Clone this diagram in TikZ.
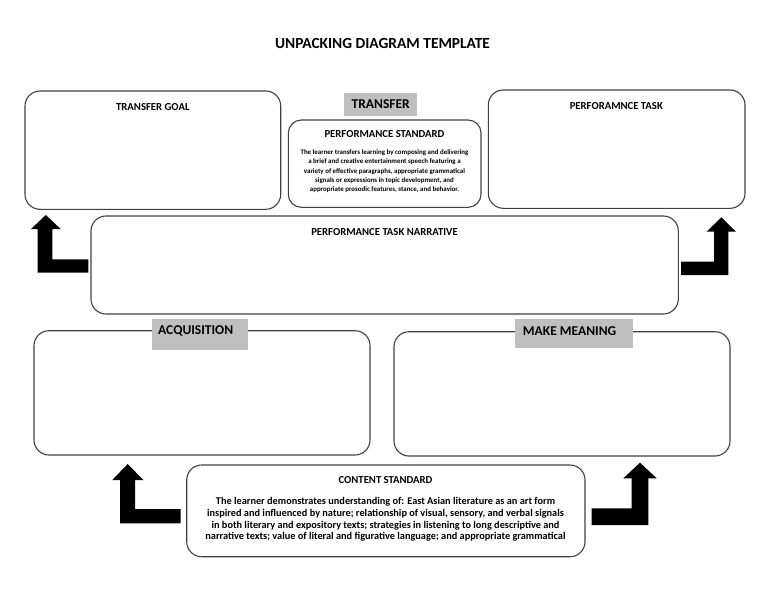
\documentclass[tikz,border=0pt]{standalone}
\usepackage{fontspec}
\setmainfont{Carlito}
\begin{document}
\begin{tikzpicture}[x=1pt,y=-1pt,
  box/.style={draw=black!75, line width=1.1pt, rounded corners=15pt, inner sep=0pt},
  ttl/.style={font=\bfseries\fontsize{10.7}{12}\selectfont, inner sep=0pt},
  tag/.style={fill=black!25, inner sep=0pt},
  tagtext/.style={inner sep=0pt, anchor=west, font=\bfseries\fontsize{13.5}{15}\selectfont},
  blockarrow/.style={fill=black, draw=none}]
\useasboundingbox (0,0) rectangle (768,594);
% title
\node[font=\bfseries\fontsize{15.4}{17}\selectfont, inner sep=0pt] (title) at (382.5,44) {UNPACKING DIAGRAM TEMPLATE};
% boxes
\node[box, minimum width=255.7pt, minimum height=118.3pt] (goal) at (152.85,150.15) {};
\node[box, minimum width=256.7pt, minimum height=118.3pt] (task) at (616.65,149.15) {};
\node[box, minimum width=192.7pt, minimum height=87.3pt, rounded corners=13pt] (pstd) at (384.65,163.65) {};
\node[box, minimum width=587.3pt, minimum height=98pt] (narr) at (384.65,265) {};
\node[box, minimum width=336pt, minimum height=124.3pt] (acq) at (202,392.85) {};
\node[box, minimum width=336pt, minimum height=124.3pt] (mm) at (562,393.85) {};
\node[box, minimum width=398.3pt, minimum height=91.7pt] (cstd) at (385.85,510.85) {};
% tags
\node[tag, minimum width=72.4pt, minimum height=23.3pt] (ttransfer) at (380.5,104.35) {};
\node[tagtext] (ttransfert) at (351.5,104.5) {TRANSFER};
\node[tag, minimum width=96pt, minimum height=30.3pt, anchor=north west] (tacq) at (151.7,319) {};
\node[tagtext] (tacqt) at (158,331) {ACQUISITION};
\node[tag, minimum width=117.3pt, minimum height=28.3pt, anchor=north west] (tmm) at (515,319) {};
\node[tagtext] (tmmt) at (522.7,331) {MAKE MEANING};
% titles
\node[ttl] (goalt) at (152.85,106.7) {TRANSFER GOAL};
\node[ttl] (taskt) at (616.3,106) {PERFORAMNCE TASK};
\node[ttl] (pstdt) at (384.5,134.3) {PERFORMANCE STANDARD};
\node[ttl] (narrt) at (384.5,231.7) {PERFORMANCE TASK NARRATIVE};
\node[ttl] (cstdt) at (385.5,480) {CONTENT STANDARD};
% body texts
\node[inner sep=0pt, align=center, font=\bfseries\fontsize{6.9}{9.1}\selectfont] (pstdb) at (384.5,171.2) {The learner transfers learning by composing and delivering\\a brief and creative entertainment speech featuring a\\variety of effective paragraphs, appropriate grammatical\\signals or expressions in topic development, and\\appropriate prosodic features, stance, and behavior.};
\node[inner sep=0pt, align=center, font=\bfseries\fontsize{10.3}{11.7}\selectfont] (cstdb) at (385.5,519.5) {The learner demonstrates understanding of: East Asian literature as an art form\\inspired and influenced by nature; relationship of visual, sensory, and verbal signals\\in both literary and expository texts; strategies in listening to long descriptive and\\narrative texts; value of literal and figurative language; and appropriate grammatical};
% block arrows
\fill[blockarrow] (45.8,215) -- (60.7,229) -- (52.3,229) -- (52.3,259.3) -- (88.3,259.3) -- (88.3,272.7) -- (37.7,272.7) -- (37.7,229) -- (31,229) -- cycle;
\fill[blockarrow] (721.3,217.3) -- (736,231.7) -- (728.3,231.7) -- (728.3,275) -- (681,275) -- (681,261.7) -- (714,261.7) -- (714,231.7) -- (706.7,231.7) -- cycle;
\fill[blockarrow] (127.7,464) -- (143.3,480) -- (135,480) -- (135,509) -- (180.7,509) -- (180.7,523.3) -- (120,523.3) -- (120,480) -- (112.3,480) -- cycle;
\fill[blockarrow] (640,462.7) -- (656.7,478.3) -- (648.3,478.3) -- (648.3,525) -- (591.7,525) -- (591.7,508.3) -- (631.7,508.3) -- (631.7,478.3) -- (623.3,478.3) -- cycle;
\end{tikzpicture}
\end{document}
